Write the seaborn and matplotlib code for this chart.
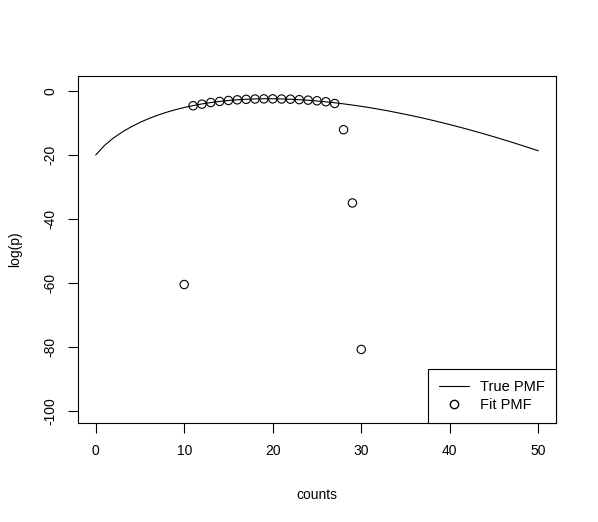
import numpy as np
import pandas as pd
import seaborn as sns
import matplotlib.pyplot as plt
from matplotlib.lines import Line2D

# true pmf curve (log scale)
true_x = list(range(0, 51))
true_logp = [-20.0, -17.0, -14.7, -12.81, -11.2, -9.81, -8.61, -7.56, -6.64, -5.84,
             -5.15, -4.55, -4.04, -3.61, -3.25, -2.96, -2.74, -2.58, -2.47, -2.42,
             -2.42, -2.47, -2.57, -2.71, -2.89, -3.11, -3.37, -3.67, -4.01, -4.38,
             -4.79, -5.22, -5.69, -6.19, -6.73, -7.29, -7.87, -8.49, -9.13, -9.8,
             -10.49, -11.21, -11.95, -12.72, -13.5, -14.32, -15.15, -16.0, -16.88, -17.77,
             -18.69]

# fitted pmf points
fit_x = [10, 11, 12, 13, 14, 15, 16, 17, 18, 19, 20, 21, 22, 23, 24, 25, 26, 27, 28, 29, 30]
fit_logp = [-60.5, -4.6, -4.1, -3.6, -3.25, -2.95, -2.75, -2.6, -2.5, -2.45, -2.45,
            -2.5, -2.55, -2.7, -2.85, -3.05, -3.35, -3.9, -12.1, -35.0, -80.8]

df_true = pd.DataFrame({'counts': true_x, 'logp': true_logp})
df_fit = pd.DataFrame({'counts': fit_x, 'logp': fit_logp})

sns.set_style("white")
plt.rcParams['font.family'] = ['Liberation Sans', 'DejaVu Sans']
plt.rcParams['font.size'] = 10
plt.rcParams['text.color'] = 'black'
plt.rcParams['axes.labelcolor'] = 'black'
plt.rcParams['xtick.color'] = 'black'
plt.rcParams['ytick.color'] = 'black'

fig = plt.figure(figsize=(5.98, 5.22), dpi=100)
ax = fig.add_axes([0.1304, 0.1897, 0.7994, 0.6647])

sns.lineplot(data=df_true, x='counts', y='logp', color='black', linewidth=0.8, ax=ax)
sns.scatterplot(data=df_fit, x='counts', y='logp', marker='o', s=36,
                facecolor='none', edgecolor='black', linewidth=0.8, ax=ax)

ax.set_xlim(-2, 52)
ax.set_ylim(-103.8, 4.7)
ax.set_xticks([0, 10, 20, 30, 40, 50])
ax.set_yticks([0, -20, -40, -60, -80, -100])
ax.set_yticklabels(['0', '-20', '-40', '-60', '-80', '-100'], rotation=90, va='center')
ax.tick_params(axis='both', direction='out', length=7, width=0.8, color='black',
               labelcolor='black', labelsize=10, pad=8, bottom=True, left=True)
ax.set_xlabel('counts', fontsize=10, labelpad=22)
ax.set_ylabel('log(p)', fontsize=10, labelpad=15)
for sp in ax.spines.values():
    sp.set_color('black')
    sp.set_linewidth(0.8)

# legend box in the lower right corner
handles = [Line2D([], [], color='black', linewidth=0.8),
           Line2D([], [], marker='o', linestyle='none', markerfacecolor='none',
                  markeredgecolor='black', markersize=6)]
leg = ax.legend(handles, ['True PMF', 'Fit PMF'], loc='lower right', borderaxespad=0,
                fancybox=False, edgecolor='black', framealpha=1, fontsize=10.5,
                handlelength=2.0, handletextpad=0.8, borderpad=0.75, labelspacing=0.3)
leg.get_frame().set_linewidth(0.8)

fig.savefig('out.png', dpi=100)
